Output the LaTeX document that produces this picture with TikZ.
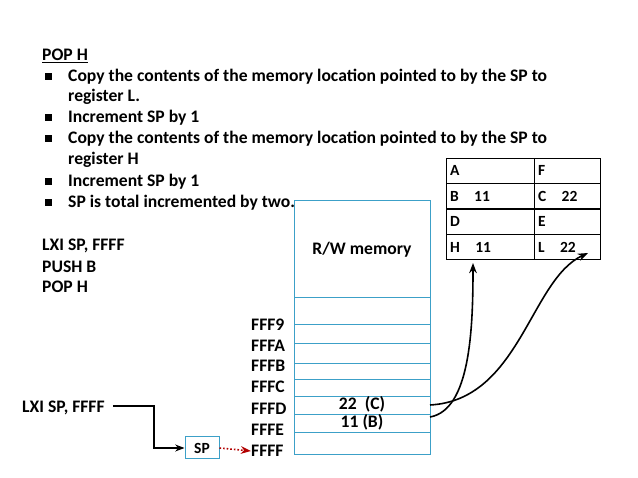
\documentclass[tikz,border=0pt]{standalone}
\usepackage{fontspec}
\setmainfont{Carlito}
\usetikzlibrary{positioning,arrows.meta}
\tikzstyle{txt}=[anchor=west, inner sep=0pt, font=\bfseries\fontsize{17.6}{20}\selectfont]
\tikzstyle{bul}=[fill, minimum size=7pt, inner sep=0pt]
\tikzstyle{regcell}=[draw, rectangle, minimum height=25pt, inner sep=0pt, align=left, font=\bfseries\fontsize{15.5}{17}\selectfont]
\definecolor{memblue}{RGB}{60,160,200}
\begin{document}
\begin{tikzpicture}[x=1pt, y=-1pt, >=Stealth]
      \useasboundingbox (0,0) rectangle (638,478);
      % text block
      \node[txt] (title) at (42,56) {\underline{POP H}};
      \foreach \y/\nm in {77/b1, 118/b2, 139/b3, 182/b4, 203/b5}
        \node[bul] (\nm) at (48,\y) {};
      \node[txt] (t1) at (68,77) {Copy the contents of the memory location pointed to by the SP to};
      \node[txt] (t1b) at (68,97) {register L.};
      \node[txt] (t2) at (68,118) {Increment SP by 1};
      \node[txt] (t3) at (68,139) {Copy the contents of the memory location pointed to by the SP to};
      \node[txt] (t3b) at (68,160) {register H};
      \node[txt] (t4) at (68,182) {Increment SP by 1};
      \node[txt] (t5) at (68,203) {SP is total incremented by two.};
      \node[txt] (p1) at (42,246) {LXI SP, FFFF};
      \node[txt] (p2) at (42,267) {PUSH B};
      \node[txt] (p3) at (42,287) {POP H};
      % memory
      \draw[memblue, line width=1pt, fill=white] (294,201) rectangle (430,298);
      \node[txt, anchor=center] (rw) at (362,250) {R/W memory};
      \foreach \ya/\yb/\nm in {298/325/m0, 325/344/m9, 344/364/mA, 364/380/mB, 380/397/mC, 397/415/mD, 415/433/mE, 433/455/mF}
        \draw[memblue, line width=1pt] (294,\ya) rectangle (430,\yb) coordinate (\nm);
      \foreach \y/\lbl in {325/FFF9, 346/FFFA, 366/FFFB, 387/FFFC, 409/FFFD, 430/FFFE, 451/FFFF}
        \node[txt] (a\lbl) at (251,\y) {\lbl};
      \node[txt, anchor=center] (vC) at (362,404) {22~ (C)};
      \node[txt, anchor=center] (vB) at (362,422) {11 (B)};
      \coordinate (outD) at (430,405);
      \coordinate (outE) at (430,417);
      % registers
      \foreach \l/\r [count=\i] in {A/F, B~~~11/C~~~22, D/E, H~~~11/L~~~22}
      {
        \node[regcell, minimum width=88pt, text width=80pt] (reg\i l) at (490,145+25.5*\i) {\l};
        \node[regcell, minimum width=66pt, text width=58pt] (reg\i r) at (567,145+25.5*\i) {\r};
      }
      % SP
      \node[txt] (lxi) at (22,408) {LXI SP, FFFF};
      \node[draw=memblue, line width=1pt, minimum width=34pt, minimum height=22pt, font=\bfseries\fontsize{15.5}{17}\selectfont] (sp) at (202,448) {SP};
      \draw[->, line width=1.4pt] (lxi.east) ++(8,-2) -| (154,448) -- (sp.west);
      \draw[->, red!70!black, dotted, line width=1.6pt] (sp.east) -- (aFFFF.west);
      \draw[->, line width=1.6pt] (outD) .. controls (520,400) and (530,280) .. (588,253);
      \draw[->, line width=1.6pt] (outE) .. controls (470,410) and (473,330) .. (473,263);
\end{tikzpicture}
\end{document}
